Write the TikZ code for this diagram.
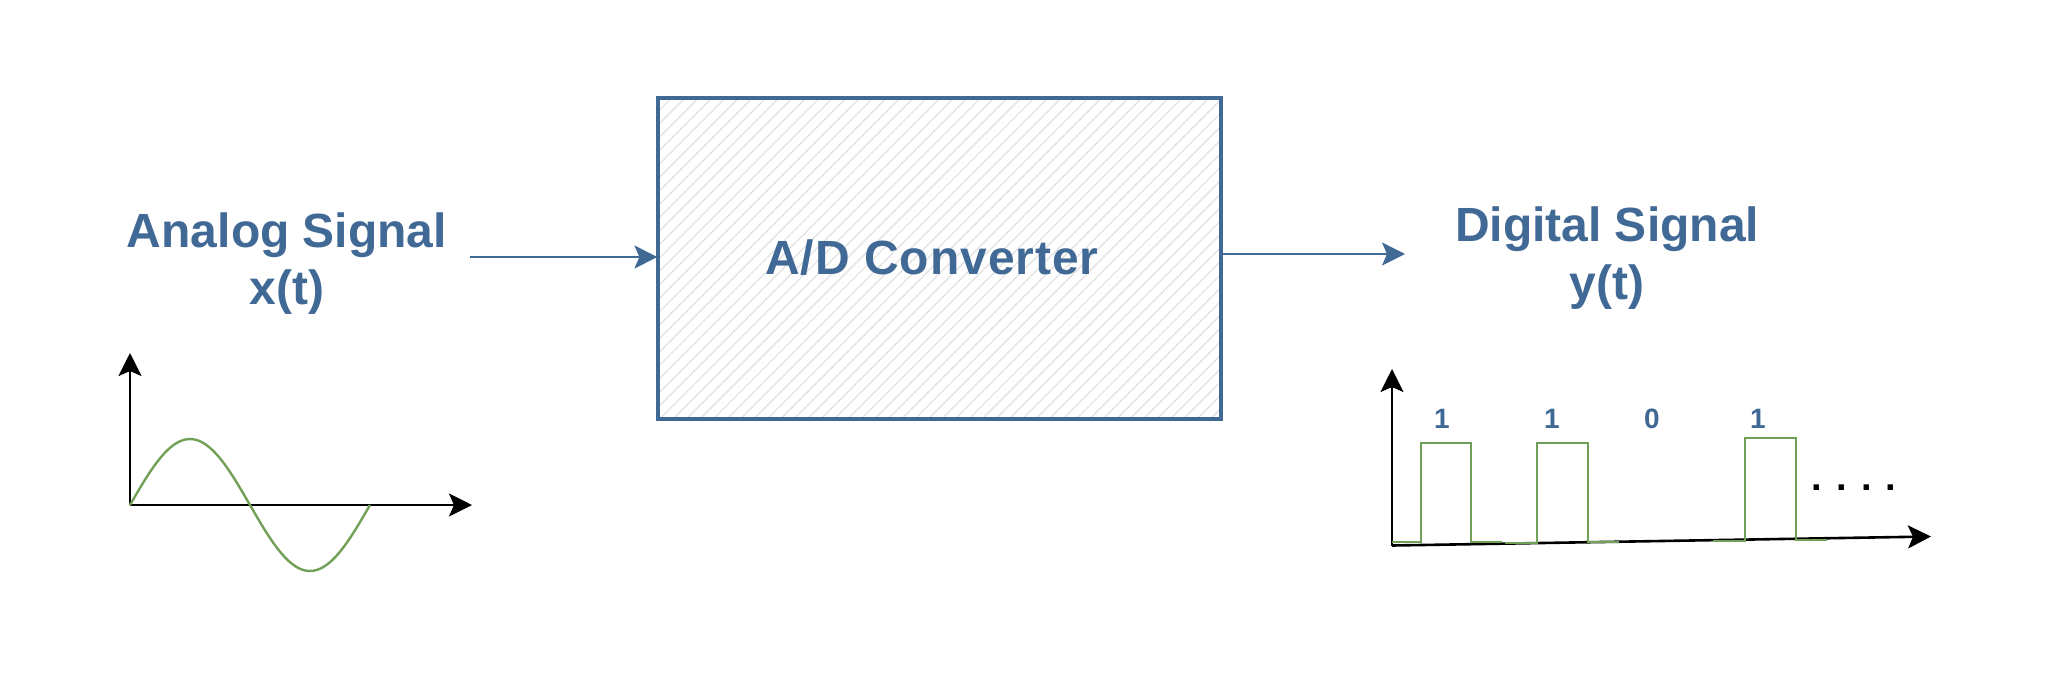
\documentclass[tikz,border=0pt]{standalone}
\usepackage{fontspec}
\setmainfont{Liberation Sans}
\usetikzlibrary{arrows.meta,patterns.meta}
\definecolor{sigblue}{RGB}{65,105,150}
\definecolor{siggreen}{RGB}{113,160,87}
\tikzset{
	lbl/.style={text=sigblue, font=\fontsize{48}{58}\selectfont\bfseries, inner sep=0pt, anchor=base},
	bit/.style={text=sigblue, font=\fontsize{28}{34}\selectfont\bfseries, inner sep=0pt, anchor=base},
	flow/.style={draw=sigblue, line width=2pt, -{Stealth[length=23pt,width=23pt,inset=5pt]}},
	axis/.style={line width=2.6pt, -{Stealth[length=23pt,width=23pt,inset=5pt]}},
	wave/.style={draw=siggreen, line width=2.4pt},
	pulse/.style={draw=siggreen, line width=2.2pt},
}

\begin{document}
\begin{tikzpicture}[x=1pt, y=-1pt]
			%%%%% START %%%%%
			
			\useasboundingbox (0,0) rectangle (2048,689);
			
			\node[draw=sigblue, line width=4pt, minimum width=563pt, minimum height=321pt, inner sep=0pt,
				pattern={Lines[angle=45,distance=9.5pt,line width=1.2pt]}, pattern color=black!12] (adc) at (939.5,258.5) {};
			\node[lbl, font=\fontsize{48}{58}\selectfont\bfseries\addfontfeature{LetterSpace=2}] (adctext) at (932,274) {A/D Converter};
			
			\node[lbl] (analog) at (287,247) {Analog Signal};
			\node[lbl] (xsig) at (287,304) {x(t)};
			\node[lbl] (digital) at (1607,241) {Digital Signal};
			\node[lbl] (ysig) at (1607,299) {y(t)};
			
			\coordinate (src) at (470,257);
			\coordinate (dst) at (1405,254);
			\draw[flow] (src) -- (src -| adc.west);
			\draw[flow] (adc.east |- dst) -- (dst);
			
			% analog plot
			\coordinate (ao) at (130,505);
			\coordinate (ay) at (130,353);
			\coordinate (ax) at (472,505);
			\draw[axis] (ao) -- (ay);
			\draw[axis] (ao) -- (ax);
			\draw[wave] plot[domain=0:360, samples=73, smooth] ({130+\x/1.5}, {505-66*sin(\x)});
			
			% digital plot
			\coordinate (do) at (1392,545.5);
			\coordinate (dy) at (1392,369);
			\coordinate (dx) at (1931,536.5);
			\draw[axis] (do) -- (dy);
			\draw[axis] (do) -- (dx);
			
			\draw[pulse] (1392,542) -- (1421,542) -- (1421,443) -- (1471,443) -- (1471,542) -- (1502,542);
			\draw[pulse] (1505,543) -- (1537,543) -- (1537,443) -- (1588,443) -- (1588,542) -- (1619,542);
			\draw[pulse] (1713,541) -- (1745,541) -- (1745,438) -- (1796,438) -- (1796,540) -- (1827,540);
			
			\node[bit] (b1) at (1442,428) {1};
			\node[bit] (b2) at (1552,428) {1};
			\node[bit] (b3) at (1652,428) {0};
			\node[bit] (b4) at (1758,428) {1};
			\node[font=\fontsize{38}{40}\selectfont\bfseries, inner sep=0pt, anchor=base] (more) at (1854,490) {. . . .};
			
			%%%%% END %%%%%
\end{tikzpicture}
\end{document}
